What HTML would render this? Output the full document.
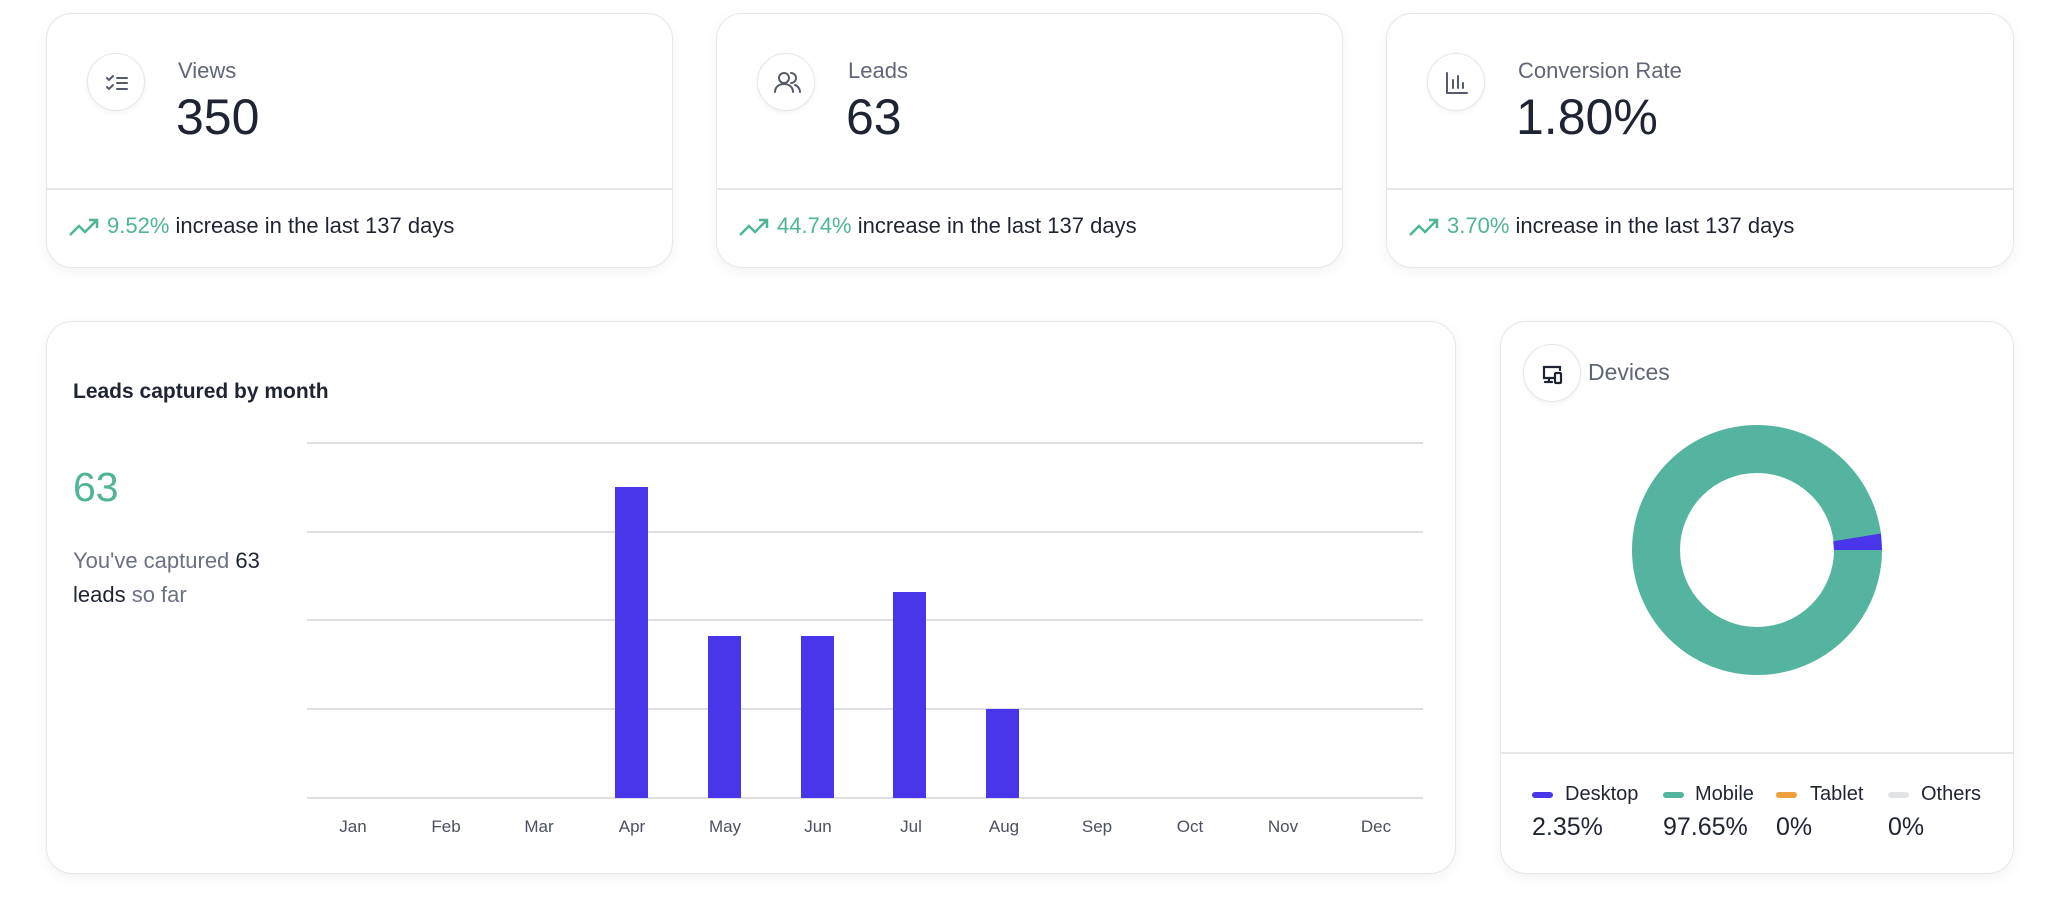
<!DOCTYPE html>
<html><head><meta charset="utf-8"><style>
*{margin:0;padding:0;box-sizing:border-box}
body{width:2048px;height:898px;background:#fff;font-family:"Liberation Sans",sans-serif;position:relative;overflow:hidden;color:#1f2433}
.card{position:absolute;background:#fff;border:1.5px solid #e6e7ea;border-radius:26px;box-shadow:0 4px 14px rgba(0,0,0,0.05)}
.a{position:absolute;white-space:nowrap;z-index:2}
.ic{position:absolute;width:58px;height:58px;border-radius:50%;border:1.5px solid #e5e6ea;box-shadow:0 2px 6px rgba(0,0,0,0.05);background:#fff;z-index:2}
.hr{position:absolute;left:0;right:0;height:1.5px;background:#e6e7ea}
.lbl{font-size:22px;color:#5f6678}
.big{font-size:50px;color:#1f2433}
.ft{font-size:22px;color:#1f2433}
.ft span{color:#4fb498}
.m{font-size:17px;color:#4b5060;transform:translateX(-50%)}
</style></head><body>

<div class="card" style="left:46px;top:13px;width:627px;height:255px"><div class="hr" style="top:174px"></div></div>
<div class="card" style="left:716px;top:13px;width:627px;height:255px"><div class="hr" style="top:174px"></div></div>
<div class="card" style="left:1386px;top:13px;width:628px;height:255px"><div class="hr" style="top:174px"></div></div>
<div class="card" style="left:46px;top:321px;width:1410px;height:553px"></div>
<div class="card" style="left:1500px;top:321px;width:514px;height:553px"><div class="hr" style="top:430px"></div></div>

<div class="ic" style="left:87px;top:53px"><svg width="58" height="58" viewBox="0 0 58 58" fill="none" stroke="#555b6b" stroke-width="2" stroke-linecap="round"><path d="M19 24l2 2 4-4M19 33l2 2 4-4M29 24h10M29 29h10M29 35h10"/></svg></div>
<div class="a lbl" style="left:178px;top:58px">Views</div>
<div class="a big" style="left:176px;top:88px">350</div>
<svg class="a" style="left:68px;top:216px" width="32" height="22" viewBox="0 0 32 22" fill="none" stroke="#4fb498" stroke-width="2.5"><path d="M2 19l9-9 6 6 12-12M21 4h8v8"/></svg>
<div class="a ft" style="left:107px;top:213px"><span>9.52%</span> increase in the last 137 days</div>

<div class="ic" style="left:757px;top:53px"><svg width="58" height="58" viewBox="0 0 58 58" fill="none" stroke="#555b6b" stroke-width="2" stroke-linecap="round"><circle cx="26" cy="24" r="5"/><path d="M17 38c0-5 4-8 9-8s9 3 9 8M33 19a5 5 0 010 10M37 31c3 1 5 4 5 7"/></svg></div>
<div class="a lbl" style="left:848px;top:58px">Leads</div>
<div class="a big" style="left:846px;top:88px">63</div>
<svg class="a" style="left:738px;top:216px" width="32" height="22" viewBox="0 0 32 22" fill="none" stroke="#4fb498" stroke-width="2.5"><path d="M2 19l9-9 6 6 12-12M21 4h8v8"/></svg>
<div class="a ft" style="left:777px;top:213px"><span>44.74%</span> increase in the last 137 days</div>

<div class="ic" style="left:1427px;top:53px"><svg width="58" height="58" viewBox="0 0 58 58" fill="none" stroke="#555b6b" stroke-width="2" stroke-linecap="round"><path d="M19 19v20h20M25 34v-8M30 34v-12M35 34v-5"/></svg></div>
<div class="a lbl" style="left:1518px;top:58px">Conversion Rate</div>
<div class="a big" style="left:1516px;top:88px">1.80%</div>
<svg class="a" style="left:1408px;top:216px" width="32" height="22" viewBox="0 0 32 22" fill="none" stroke="#4fb498" stroke-width="2.5"><path d="M2 19l9-9 6 6 12-12M21 4h8v8"/></svg>
<div class="a ft" style="left:1447px;top:213px"><span>3.70%</span> increase in the last 137 days</div>

<div class="a" style="left:73px;top:380px;font-size:21px;font-weight:bold;color:#1f2433">Leads captured by month</div>
<div class="a" style="left:73px;top:464px;font-size:41px;color:#4fb498">63</div>
<div class="a" style="left:73px;top:544px;font-size:22px;line-height:34px;color:#6b7184">You've captured <span style="color:#1f2433">63</span><br><span style="color:#1f2433">leads</span> so far</div>

<svg style="position:absolute;left:0;top:0;z-index:2" width="2048" height="898">
<g stroke="#d4d6da" stroke-width="1.5">
<line x1="307" y1="443" x2="1423" y2="443"/><line x1="307" y1="532" x2="1423" y2="532"/><line x1="307" y1="620" x2="1423" y2="620"/><line x1="307" y1="709" x2="1423" y2="709"/><line x1="307" y1="798" x2="1423" y2="798"/>
</g>
<g fill="#4936eb">
<rect x="615" y="487" width="33" height="311"/><rect x="708" y="636" width="33" height="162"/><rect x="801" y="636" width="33" height="162"/><rect x="893" y="592" width="33" height="206"/><rect x="986" y="709" width="33" height="89"/>
</g>
<circle cx="1757" cy="550" r="101" fill="none" stroke="#55b4a0" stroke-width="48"/>
<path d="M1882 550 L1834 550 L1833.2 541.2 L1880.9 533.5 Z" fill="#4936eb"/>
</svg>
<div class="a m" style="left:353px;top:817px">Jan</div>
<div class="a m" style="left:446px;top:817px">Feb</div>
<div class="a m" style="left:539px;top:817px">Mar</div>
<div class="a m" style="left:632px;top:817px">Apr</div>
<div class="a m" style="left:725px;top:817px">May</div>
<div class="a m" style="left:818px;top:817px">Jun</div>
<div class="a m" style="left:911px;top:817px">Jul</div>
<div class="a m" style="left:1004px;top:817px">Aug</div>
<div class="a m" style="left:1097px;top:817px">Sep</div>
<div class="a m" style="left:1190px;top:817px">Oct</div>
<div class="a m" style="left:1283px;top:817px">Nov</div>
<div class="a m" style="left:1376px;top:817px">Dec</div>

<div class="ic" style="left:1523px;top:344px"><svg width="58" height="58" viewBox="0 0 58 58" fill="none" stroke="#1f2433" stroke-width="2.2" stroke-linecap="round"><path d="M30 33h-10v-11h16v3M25 33v4M21 37h7"/><rect x="31" y="28" width="6" height="10" rx="1"/></svg></div>
<div class="a" style="left:1588px;top:359px;font-size:23px;color:#5f6678">Devices</div>

<div class="a" style="left:1532px;top:792px;width:21px;height:6px;border-radius:3px;background:#4936eb"></div>
<div class="a" style="left:1663px;top:792px;width:21px;height:6px;border-radius:3px;background:#55b4a0"></div>
<div class="a" style="left:1776px;top:792px;width:21px;height:6px;border-radius:3px;background:#f0a03a"></div>
<div class="a" style="left:1888px;top:792px;width:21px;height:6px;border-radius:3px;background:#e2e3e6"></div>
<div class="a" style="left:1565px;top:783px;font-size:20px;color:#1f2433">Desktop</div>
<div class="a" style="left:1695px;top:783px;font-size:20px;color:#1f2433">Mobile</div>
<div class="a" style="left:1810px;top:783px;font-size:20px;color:#1f2433">Tablet</div>
<div class="a" style="left:1921px;top:783px;font-size:20px;color:#1f2433">Others</div>
<div class="a" style="left:1532px;top:813px;font-size:25px;color:#1f2433">2.35%</div>
<div class="a" style="left:1663px;top:813px;font-size:25px;color:#1f2433">97.65%</div>
<div class="a" style="left:1776px;top:813px;font-size:25px;color:#1f2433">0%</div>
<div class="a" style="left:1888px;top:813px;font-size:25px;color:#1f2433">0%</div>
</body></html>
